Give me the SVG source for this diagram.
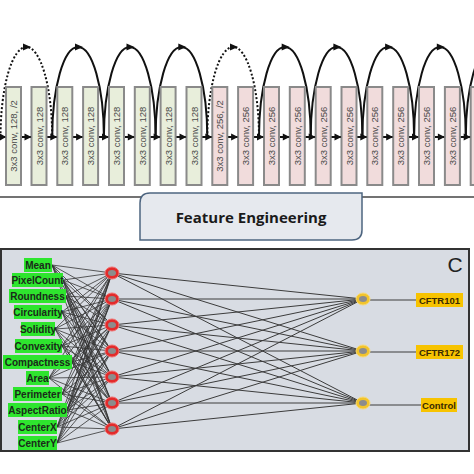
<svg xmlns="http://www.w3.org/2000/svg" width="474" height="474" viewBox="0 0 474 474">
<style>
.box{stroke:#8a8a8a;stroke-width:2}
.g{fill:#e8eedb}
.p{fill:#f1dcdc}
.bt{font-family:"Liberation Sans",Arial,sans-serif;font-size:9.5px;fill:#4a4a4a;text-anchor:middle;dominant-baseline:central}
.arc{fill:none;stroke:#111;stroke-width:2}
.dot{stroke-dasharray:2 2}
.ah{fill:#111}
.in{fill:#2ee52e}
.it{font-family:"Liberation Sans",Arial,sans-serif;font-size:10px;font-weight:bold;fill:#1a2a1a;text-anchor:middle;dominant-baseline:central}
.ot{font-family:"Liberation Sans",Arial,sans-serif;font-size:9.5px;font-weight:bold;fill:#3a2a00;text-anchor:middle;dominant-baseline:central}
.l1{stroke:#333;stroke-width:0.8}
.l2{stroke:#3c3c3c;stroke-width:1}
</style>
<rect width="474" height="474" fill="#fff"/>
<g id="connectors">
<line x1="0" y1="137" x2="474" y2="137" stroke="#111" stroke-width="2"/>
<path class="arc dot" d="M0.5 137 A25.85 90 0 0 1 52.2 137"/>
<path class="arc" d="M52.2 137 A25.85 90 0 0 1 103.9 137"/>
<path class="arc" d="M103.9 137 A25.85 90 0 0 1 155.6 137"/>
<path class="arc" d="M155.6 137 A25.85 90 0 0 1 207.3 137"/>
<path class="arc dot" d="M207.3 137 A25.85 90 0 0 1 259 137"/>
<path class="arc" d="M259 137 A25.85 90 0 0 1 310.7 137"/>
<path class="arc" d="M310.7 137 A25.85 90 0 0 1 362.4 137"/>
<path class="arc" d="M362.4 137 A25.85 90 0 0 1 414.1 137"/>
<path class="arc" d="M414.1 137 A25.85 90 0 0 1 465.8 137"/>
<path class="arc" d="M465.8 137 A25.85 90 0 0 1 517.5 137"/>
<g class="ah">
<polygon points="31,47 23,43.5 23,50.5"/>
<polygon points="83,47 75,43.5 75,50.5"/>
<polygon points="134.5,47 126.5,43.5 126.5,50.5"/>
<polygon points="186.3,47 178.3,43.5 178.3,50.5"/>
<polygon points="238,47 230,43.5 230,50.5"/>
<polygon points="289.7,47 281.7,43.5 281.7,50.5"/>
<polygon points="341.4,47 333.4,43.5 333.4,50.5"/>
<polygon points="393.1,47 385.1,43.5 385.1,50.5"/>
<polygon points="444.8,47 436.8,43.5 436.8,50.5"/>
</g>
</g>
<g id="blocks">
<g id="b0"><rect class="box g" x="6" y="87" width="15" height="98"/><text class="bt" transform="translate(13.5 136) rotate(-90)">3x3 conv, 128, /2</text></g>
<g id="b1"><rect class="box g" x="31.5" y="87" width="15" height="98"/><text class="bt" transform="translate(39 136) rotate(-90)">3x3 conv, 128</text></g>
<g id="b2"><rect class="box g" x="57.3" y="87" width="15" height="98"/><text class="bt" transform="translate(64.8 136) rotate(-90)">3x3 conv, 128</text></g>
<g id="b3"><rect class="box g" x="83.1" y="87" width="15" height="98"/><text class="bt" transform="translate(90.6 136) rotate(-90)">3x3 conv, 128</text></g>
<g id="b4"><rect class="box g" x="109" y="87" width="15" height="98"/><text class="bt" transform="translate(116.5 136) rotate(-90)">3x3 conv, 128</text></g>
<g id="b5"><rect class="box g" x="134.8" y="87" width="15" height="98"/><text class="bt" transform="translate(142.3 136) rotate(-90)">3x3 conv, 128</text></g>
<g id="b6"><rect class="box g" x="160.6" y="87" width="15" height="98"/><text class="bt" transform="translate(168.1 136) rotate(-90)">3x3 conv, 128</text></g>
<g id="b7"><rect class="box g" x="186.5" y="87" width="15" height="98"/><text class="bt" transform="translate(194 136) rotate(-90)">3x3 conv, 128</text></g>
<g id="b8"><rect class="box p" x="212.3" y="87" width="15" height="98"/><text class="bt" transform="translate(219.8 136) rotate(-90)">3x3 conv, 256, /2</text></g>
<g id="b9"><rect class="box p" x="238.1" y="87" width="15" height="98"/><text class="bt" transform="translate(245.6 136) rotate(-90)">3x3 conv, 256</text></g>
<g id="b10"><rect class="box p" x="264" y="87" width="15" height="98"/><text class="bt" transform="translate(271.5 136) rotate(-90)">3x3 conv, 256</text></g>
<g id="b11"><rect class="box p" x="289.8" y="87" width="15" height="98"/><text class="bt" transform="translate(297.3 136) rotate(-90)">3x3 conv, 256</text></g>
<g id="b12"><rect class="box p" x="315.7" y="87" width="15" height="98"/><text class="bt" transform="translate(323.2 136) rotate(-90)">3x3 conv, 256</text></g>
<g id="b13"><rect class="box p" x="341.5" y="87" width="15" height="98"/><text class="bt" transform="translate(349 136) rotate(-90)">3x3 conv, 256</text></g>
<g id="b14"><rect class="box p" x="367.3" y="87" width="15" height="98"/><text class="bt" transform="translate(374.8 136) rotate(-90)">3x3 conv, 256</text></g>
<g id="b15"><rect class="box p" x="393.2" y="87" width="15" height="98"/><text class="bt" transform="translate(400.7 136) rotate(-90)">3x3 conv, 256</text></g>
<g id="b16"><rect class="box p" x="419" y="87" width="15" height="98"/><text class="bt" transform="translate(426.5 136) rotate(-90)">3x3 conv, 256</text></g>
<g id="b17"><rect class="box p" x="444.9" y="87" width="15" height="98"/><text class="bt" transform="translate(452.4 136) rotate(-90)">3x3 conv, 256</text></g>
<g id="b18"><rect class="box p" x="470.7" y="87" width="15" height="98"/></g>
</g>
<g class="ah">
<polygon points="6,137 0,133.5 0,140.5"/>
<polygon points="31.5,137 24.5,133.5 24.5,140.5"/>
<polygon points="57.3,137 50.3,133.5 50.3,140.5"/>
<polygon points="83.1,137 76.1,133.5 76.1,140.5"/>
<polygon points="109,137 102,133.5 102,140.5"/>
<polygon points="134.8,137 127.8,133.5 127.8,140.5"/>
<polygon points="160.6,137 153.6,133.5 153.6,140.5"/>
<polygon points="186.5,137 179.5,133.5 179.5,140.5"/>
<polygon points="212.3,137 205.3,133.5 205.3,140.5"/>
<polygon points="238.1,137 231.1,133.5 231.1,140.5"/>
<polygon points="264,137 257,133.5 257,140.5"/>
<polygon points="289.8,137 282.8,133.5 282.8,140.5"/>
<polygon points="315.7,137 308.7,133.5 308.7,140.5"/>
<polygon points="341.5,137 334.5,133.5 334.5,140.5"/>
<polygon points="367.3,137 360.3,133.5 360.3,140.5"/>
<polygon points="393.2,137 386.2,133.5 386.2,140.5"/>
<polygon points="419,137 412,133.5 412,140.5"/>
<polygon points="444.9,137 437.9,133.5 437.9,140.5"/>
<polygon points="470.7,137 463.7,133.5 463.7,140.5"/>
</g>
<line x1="0" y1="197" x2="474" y2="197" stroke="#444" stroke-width="1.5"/>
<g id="feature-engineering">
<path d="M150 193 H362 V230 Q362 240 352 240 H140 V203 Q140 193 150 193 Z" fill="#e6e9ee" stroke="#4d6580" stroke-width="1.5"/>
<text x="251" y="217" font-family="'Open Sans','Liberation Sans',Arial,sans-serif" font-size="15" font-weight="bold" fill="#1a1a1a" text-anchor="middle" dominant-baseline="central">Feature Engineering</text>
</g>
<g id="panel-c">
<rect x="1" y="249" width="468" height="202" fill="#d8dce3" stroke="#333" stroke-width="2"/>
<text x="455" y="264" font-family="'Liberation Sans',Arial,sans-serif" font-size="21" fill="#222" text-anchor="middle" dominant-baseline="central">C</text>
</g>
<g id="nn-connectors">
<g class="l1">
<path d="M52 265 L112 273 M52 265 L112 299 M52 265 L112 325 M52 265 L112 351 M52 265 L112 377 M52 265 L112 403 M52 265 L112 429"/>
<path d="M63 280 L112 273 M63 280 L112 299 M63 280 L112 325 M63 280 L112 351 M63 280 L112 377 M63 280 L112 403 M63 280 L112 429"/>
<path d="M66 296 L112 273 M66 296 L112 299 M66 296 L112 325 M66 296 L112 351 M66 296 L112 377 M66 296 L112 403 M66 296 L112 429"/>
<path d="M62 312 L112 273 M62 312 L112 299 M62 312 L112 325 M62 312 L112 351 M62 312 L112 377 M62 312 L112 403 M62 312 L112 429"/>
<path d="M55 329 L112 273 M55 329 L112 299 M55 329 L112 325 M55 329 L112 351 M55 329 L112 377 M55 329 L112 403 M55 329 L112 429"/>
<path d="M62 346 L112 273 M62 346 L112 299 M62 346 L112 325 M62 346 L112 351 M62 346 L112 377 M62 346 L112 403 M62 346 L112 429"/>
<path d="M72 362 L112 273 M72 362 L112 299 M72 362 L112 325 M72 362 L112 351 M72 362 L112 377 M72 362 L112 403 M72 362 L112 429"/>
<path d="M49 378 L112 273 M49 378 L112 299 M49 378 L112 325 M49 378 L112 351 M49 378 L112 377 M49 378 L112 403 M49 378 L112 429"/>
<path d="M62 394 L112 273 M62 394 L112 299 M62 394 L112 325 M62 394 L112 351 M62 394 L112 377 M62 394 L112 403 M62 394 L112 429"/>
<path d="M67 410 L112 273 M67 410 L112 299 M67 410 L112 325 M67 410 L112 351 M67 410 L112 377 M67 410 L112 403 M67 410 L112 429"/>
<path d="M57 427 L112 273 M57 427 L112 299 M57 427 L112 325 M57 427 L112 351 M57 427 L112 377 M57 427 L112 403 M57 427 L112 429"/>
<path d="M57 443 L112 273 M57 443 L112 299 M57 443 L112 325 M57 443 L112 351 M57 443 L112 377 M57 443 L112 403 M57 443 L112 429"/>
</g>
<g class="l2">
<path d="M112 273 L363 299 M112 273 L363 351 M112 273 L363 403"/>
<path d="M112 299 L363 299 M112 299 L363 351 M112 299 L363 403"/>
<path d="M112 325 L363 299 M112 325 L363 351 M112 325 L363 403"/>
<path d="M112 351 L363 299 M112 351 L363 351 M112 351 L363 403"/>
<path d="M112 377 L363 299 M112 377 L363 351 M112 377 L363 403"/>
<path d="M112 403 L363 299 M112 403 L363 351 M112 403 L363 403"/>
<path d="M112 429 L363 299 M112 429 L363 351 M112 429 L363 403"/>
<path d="M363 300 L416 300 M363 352 L416 352 M363 405 L421 405"/>
</g>
</g>
<g id="inputs">
<g id="in-mean"><rect class="in" x="24" y="258" width="28" height="14"/><text class="it" x="38" y="265">Mean</text></g>
<g id="in-pixelcount"><rect class="in" x="12" y="273" width="51" height="14"/><text class="it" x="37.5" y="280">PixelCount</text></g>
<g id="in-roundness"><rect class="in" x="9" y="289" width="57" height="14"/><text class="it" x="37.5" y="296">Roundness</text></g>
<g id="in-circularity"><rect class="in" x="14" y="305" width="48" height="14"/><text class="it" x="38" y="312">Circularity</text></g>
<g id="in-solidity"><rect class="in" x="21" y="322" width="34" height="14"/><text class="it" x="38" y="329">Solidity</text></g>
<g id="in-convexity"><rect class="in" x="15" y="339" width="47" height="14"/><text class="it" x="38.5" y="346">Convexity</text></g>
<g id="in-compactness"><rect class="in" x="3" y="355" width="69" height="14"/><text class="it" x="37.5" y="362">Compactness</text></g>
<g id="in-area"><rect class="in" x="26" y="371" width="23" height="14"/><text class="it" x="37.5" y="378">Area</text></g>
<g id="in-perimeter"><rect class="in" x="13" y="387" width="49" height="14"/><text class="it" x="37.5" y="394">Perimeter</text></g>
<g id="in-aspectratio"><rect class="in" x="8" y="403" width="59" height="14"/><text class="it" x="37.5" y="410">AspectRatio</text></g>
<g id="in-centerx"><rect class="in" x="18" y="420" width="39" height="14"/><text class="it" x="37.5" y="427">CenterX</text></g>
<g id="in-centery"><rect class="in" x="18" y="436" width="39" height="14"/><text class="it" x="37.5" y="443">CenterY</text></g>
</g>
<g id="hidden">
<g id="h1"><ellipse cx="112" cy="273" rx="7" ry="6" fill="#e32b2b" stroke="#f07070" stroke-width="1"/><ellipse cx="112" cy="273" rx="4" ry="3" fill="#8c8c8c"/></g>
<g id="h2"><ellipse cx="112" cy="299" rx="7" ry="6" fill="#e32b2b" stroke="#f07070" stroke-width="1"/><ellipse cx="112" cy="299" rx="4" ry="3" fill="#8c8c8c"/></g>
<g id="h3"><ellipse cx="112" cy="325" rx="7" ry="6" fill="#e32b2b" stroke="#f07070" stroke-width="1"/><ellipse cx="112" cy="325" rx="4" ry="3" fill="#8c8c8c"/></g>
<g id="h4"><ellipse cx="112" cy="351" rx="7" ry="6" fill="#e32b2b" stroke="#f07070" stroke-width="1"/><ellipse cx="112" cy="351" rx="4" ry="3" fill="#8c8c8c"/></g>
<g id="h5"><ellipse cx="112" cy="377" rx="7" ry="6" fill="#e32b2b" stroke="#f07070" stroke-width="1"/><ellipse cx="112" cy="377" rx="4" ry="3" fill="#8c8c8c"/></g>
<g id="h6"><ellipse cx="112" cy="403" rx="7" ry="6" fill="#e32b2b" stroke="#f07070" stroke-width="1"/><ellipse cx="112" cy="403" rx="4" ry="3" fill="#8c8c8c"/></g>
<g id="h7"><ellipse cx="112" cy="429" rx="7" ry="6" fill="#e32b2b" stroke="#f07070" stroke-width="1"/><ellipse cx="112" cy="429" rx="4" ry="3" fill="#8c8c8c"/></g>
</g>
<g id="outputs">
<g id="o1"><ellipse cx="363" cy="299" rx="7" ry="6" fill="#f2c42c" stroke="#f7da7a" stroke-width="1"/><ellipse cx="363" cy="299" rx="4" ry="3" fill="#8c8c8c"/></g>
<g id="o2"><ellipse cx="363" cy="351" rx="7" ry="6" fill="#f2c42c" stroke="#f7da7a" stroke-width="1"/><ellipse cx="363" cy="351" rx="4" ry="3" fill="#8c8c8c"/></g>
<g id="o3"><ellipse cx="363" cy="403" rx="7" ry="6" fill="#f2c42c" stroke="#f7da7a" stroke-width="1"/><ellipse cx="363" cy="403" rx="4" ry="3" fill="#8c8c8c"/></g>
<g id="lbl-cftr101"><rect x="416" y="293" width="47" height="14" fill="#f7c300"/><text class="ot" x="439.5" y="300">CFTR101</text></g>
<g id="lbl-cftr172"><rect x="416" y="345" width="47" height="14" fill="#f7c300"/><text class="ot" x="439.5" y="352">CFTR172</text></g>
<g id="lbl-control"><rect x="421" y="398" width="36" height="14" fill="#f7c300"/><text class="ot" x="439" y="405">Control</text></g>
</g>
</svg>
